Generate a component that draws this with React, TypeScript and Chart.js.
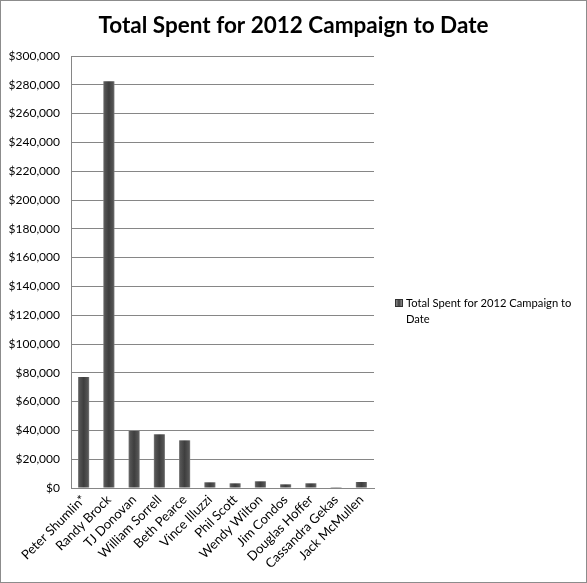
import React, { useRef, useEffect } from "react";
import { Chart, ChartConfiguration, registerables } from "chart.js";

Chart.register(...registerables);

const seriesLabel = "Total Spent for 2012 Campaign to Date";

const candidates: string[] = [
  "Peter Shumlin*",
  "Randy Brock",
  "TJ Donovan",
  "William Sorrell",
  "Beth Pearce",
  "Vince Illuzzi",
  "Phil Scott",
  "Wendy Wilton",
  "Jim Condos",
  "Douglas Hoffer",
  "Cassandra Gekas",
  "Jack McMullen",
];

const totalSpent: number[] = [
  77000, 282500, 39600, 37300, 33100, 3950, 3250, 4650, 2550, 3250, 600, 4150,
];

const FONT = "Lato, 'Open Sans', sans-serif";

const money = (v: number) => "$" + v.toLocaleString("en-US");

const App: React.FC = () => {
  const chartRef = useRef<HTMLCanvasElement | null>(null);
  const chartInstanceRef = useRef<Chart | null>(null);

  useEffect(() => {
    if (!chartRef.current) return;
    const ctx = chartRef.current.getContext("2d");
    if (!ctx) return;
    if (chartInstanceRef.current) chartInstanceRef.current.destroy();

    // cylinder-ish shading across each bar
    const barFill = (c: any) => {
      const chart = c.chart as Chart;
      const xs = chart.scales && (chart.scales as any).x;
      if (!xs || c.dataIndex === undefined) return "#4d4d4d";
      const cx = xs.getPixelForValue(c.dataIndex);
      if (!Number.isFinite(cx)) return "#4d4d4d";
      const g = chart.ctx.createLinearGradient(cx - 6, 0, cx + 6, 0);
      g.addColorStop(0, "#8a8a8a");
      g.addColorStop(0.15, "#555555");
      g.addColorStop(0.5, "#3e3e3e");
      g.addColorStop(0.85, "#555555");
      g.addColorStop(1, "#8a8a8a");
      return g;
    };

    const config: ChartConfiguration = {
      type: "bar",
      data: {
        labels: candidates,
        datasets: [
          {
            label: seriesLabel,
            data: totalSpent,
            backgroundColor: barFill,
            borderWidth: 0,
            categoryPercentage: 1,
            barPercentage: 0.44,
            yAxisID: "y",
          },
        ],
      },
      options: {
        animation: false,
        responsive: false,
        maintainAspectRatio: false,
        layout: { padding: 0 },
        plugins: {
          legend: { display: false },
          tooltip: { enabled: false },
          title: {
            display: true,
            text: seriesLabel,
            color: "#000",
            font: { family: FONT, size: 22.5, weight: "bold" },
            padding: { top: 12, bottom: 17 },
          },
        },
        scales: {
          x: {
            grid: { display: false, drawTicks: false },
            border: { display: true, color: "#868686" },
            ticks: {
              color: "#000",
              font: { family: FONT, size: 13 },
              minRotation: 45,
              maxRotation: 45,
              padding: 4,
              autoSkip: false,
            },
            afterFit: (s: any) => {
              s.height = 95;
            },
          },
          y: {
            position: "left",
            min: 0,
            max: 300000,
            grid: { color: "#868686", drawTicks: false },
            border: { display: true, color: "#868686" },
            ticks: {
              stepSize: 20000,
              color: "#000",
              font: { family: FONT, size: 12 },
              padding: 11,
              callback: (v: any) => money(Number(v)),
            },
            afterFit: (s: any) => {
              s.width = 71;
            },
          },
          yRight: {
            position: "right",
            display: true,
            grid: { display: false, drawTicks: false },
            border: { display: false },
            ticks: { display: false },
            afterFit: (s: any) => {
              s.width = 213;
            },
          },
        },
      },
    };
    chartInstanceRef.current = new Chart(ctx, config);
    return () => {
      if (chartInstanceRef.current) {
        chartInstanceRef.current.destroy();
        chartInstanceRef.current = null;
      }
    };
  }, []);

  return (
    <div
      style={{
        position: "absolute",
        left: 0,
        top: 0,
        width: 587,
        height: 583,
        background: "#fff",
      }}
    >
      <canvas ref={chartRef} width={587} height={583} style={{ position: "absolute", left: 0, top: 0 }} />
      <div
        style={{
          position: "absolute",
          left: 395,
          top: 295,
          fontFamily: FONT,
          fontSize: 11.2,
          lineHeight: "16px",
          color: "#000",
          display: "flex",
          alignItems: "flex-start",
        }}
      >
        <span
          style={{
            display: "inline-block",
            width: 6,
            height: 6,
            marginTop: 4,
            marginRight: 3,
            background: "linear-gradient(90deg,#8a8a8a,#3e3e3e 50%,#8a8a8a)",
            border: "0.5px solid #333",
            flex: "none",
          }}
        />
        <span style={{ width: 175 }}>{seriesLabel}</span>
      </div>
      <div
        style={{
          position: "absolute",
          left: 0,
          top: 0,
          width: 587,
          height: 583,
          boxSizing: "border-box",
          border: "1px solid #8c8c8c",
          pointerEvents: "none",
        }}
      />
    </div>
  );
};

export default App;
